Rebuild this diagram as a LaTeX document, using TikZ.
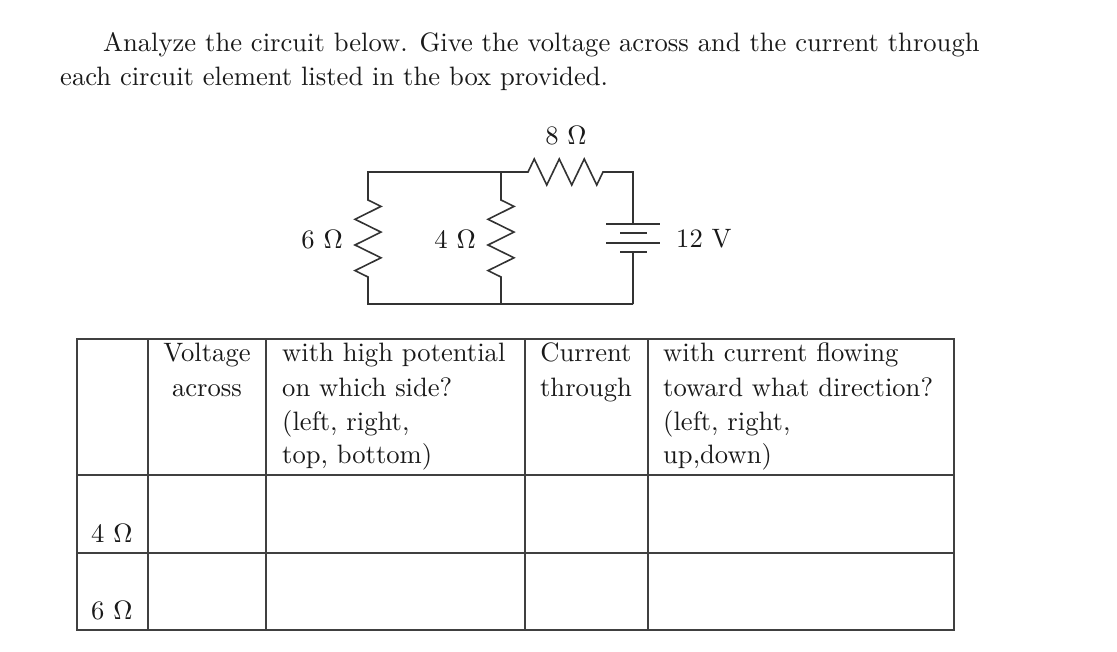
\documentclass[tikz,border=0pt]{standalone}
\usepackage{fontspec}
\setmainfont{lmroman10-regular}[Extension=.otf]
\begin{document}
\begin{tikzpicture}[x=1pt,y=-1pt,
  wire/.style={line width=1.6pt,color=black!80,line join=miter},
  grid/.style={line width=1.6pt,color=black!75},
  txt/.style={anchor=base west,inner sep=0pt,font=\fontsize{26.6}{33}\selectfont,text=black!90},
  lbl/.style={inner sep=0pt,font=\fontsize{26.6}{33}\selectfont,text=black!90}]
\useasboundingbox (0,0) rectangle (1117,652);
% title
\node[txt] (t1) at (103,52) {Analyze the circuit below. Give the voltage across and the current through};
\node[txt] (t2) at (60,86) {each circuit element listed in the box provided.};
% circuit
\coordinate (TL) at (368,172); \coordinate (TM) at (501,172); \coordinate (TR) at (633,172);
\coordinate (BL) at (368,304); \coordinate (BM) at (501,304); \coordinate (BR) at (633,304);
\draw[wire] (TM) -- (TL) -- (368,200) -- (381,206.4) -- (355,219.3) -- (381,232.1) -- (355,245) -- (381,257.8) -- (355,270.6) -- (368,277) -- (BL) -- (BM);
\draw[wire] (TM) -- (501,200) -- (514,206.4) -- (488,219.3) -- (514,232.1) -- (488,245) -- (514,257.8) -- (488,270.6) -- (501,277) -- (BM) -- (BR);
\draw[wire] (TM) -- (528,172) -- (534.25,159) -- (546.75,185) -- (559.25,159) -- (571.75,185) -- (584.25,159) -- (596.75,185) -- (603,172) -- (TR) -- (633,224);
\draw[wire] (BR) -- (633,252);
\draw[wire] (606,224) -- (660,224);
\draw[wire] (620,233) -- (647,233);
\draw[wire] (606,243) -- (660,243);
\draw[wire] (620,252) -- (647,252);
\node[lbl] (r8) at (566,135) {8 Ω};
\node[lbl,anchor=east] (r6) at (343,239) {6 Ω};
\node[lbl,anchor=east] (r4) at (476,239) {4 Ω};
\node[lbl,anchor=west] (v12) at (676,239) {12 V};
% table
\draw[grid] (77,339) rectangle (954,630);
\draw[grid] (77,475) -- (954,475);
\draw[grid] (77,553) -- (954,553);
\foreach \x in {148,266,525,648} \draw[grid] (\x,339) -- (\x,630);
\node[txt,anchor=base] (h1) at (207,362) {Voltage};
\node[txt,anchor=base] (h1b) at (207,396) {across};
\node[txt] (h2) at (282,362) {with high potential};
\node[txt] (h2b) at (282,396) {on which side?};
\node[txt] (h2c) at (282,430) {(left, right,};
\node[txt] (h2d) at (282,463) {top, bottom)};
\node[txt,anchor=base] (h3) at (586,362) {Current};
\node[txt,anchor=base] (h3b) at (586,396) {through};
\node[txt] (h4) at (663,362) {with current flowing};
\node[txt] (h4b) at (663,396) {toward what direction?};
\node[txt] (h4c) at (663,430) {(left, right,};
\node[txt] (h4d) at (663,463) {up,down)};
\node[txt] (c4) at (91,542) {4 Ω};
\node[txt] (c6) at (91,619) {6 Ω};
\end{tikzpicture}
\end{document}
